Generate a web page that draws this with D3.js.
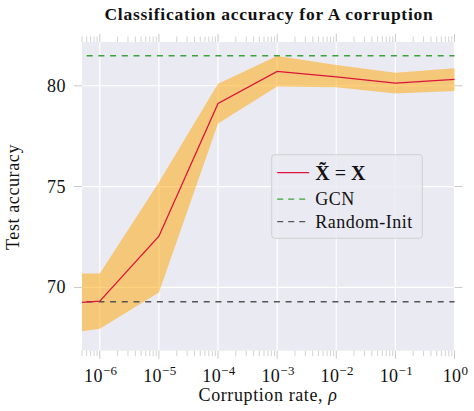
<!DOCTYPE html>
<html>
<head>
<meta charset="utf-8">
<script src="https://cdn.jsdelivr.net/npm/d3@7"></script>
<style>
  body { margin: 0; background: #fff; }
  svg { display: block; }
  text { font-family: "Liberation Serif", "DejaVu Serif", serif; fill: #111; }
</style>
</head>
<body>
<svg id="svg" width="474" height="411"></svg>
<script>
// corruption rates and test accuracy
const rates = [5e-7, 1e-6, 1e-5, 1e-4, 1e-3, 1e-2, 1e-1, 1];
const meanAcc = [69.26, 69.32, 72.54, 79.12, 80.71, 80.44, 80.13, 80.32];
const upperAcc = [70.69, 70.69, 75.22, 80.10, 81.48, 81.03, 80.65, 80.87];
const lowerAcc = [67.83, 67.95, 69.75, 78.13, 79.96, 79.92, 79.62, 79.74];
const baselineNames = ["GCN", "Random-Init"];
const baselineAcc = [81.49, 69.29];
const xTickExps = [-6, -5, -4, -3, -2, -1, 0];
const yTicks = [70, 75, 80];

const svg = d3.select("#svg");
const margin = {left: 82, top: 42, right: 19.5, bottom: 60.3};
const W = 474 - margin.left - margin.right,
    H = 411 - margin.top - margin.bottom;

const x = d3.scaleLog().domain([5e-7, 1]).range([0, W]);
const y = d3.scaleLinear().domain([66.86, 82.17]).range([H, 0]);

const g = svg.append("g").attr("transform", `translate(${margin.left},${margin.top})`);

g.append("rect").attr("width", W).attr("height", H).attr("fill", "#eaeaf2");

// grid
const majors = xTickExps.map(e => Math.pow(10, e));
g.append("g").selectAll("line").data(majors).join("line")
    .attr("x1", d => x(d)).attr("x2", d => x(d))
    .attr("y1", 0).attr("y2", H)
    .attr("stroke", "#fff").attr("stroke-width", 1.2);
g.append("g").selectAll("line").data(yTicks).join("line")
    .attr("x1", 0).attr("x2", W)
    .attr("y1", d => y(d)).attr("y2", d => y(d))
    .attr("stroke", "#fff").attr("stroke-width", 1.2);

// ticks (outside, light gray)
const minors = [];
for (let e = -7; e < 0; e++) {
    for (let m = 2; m <= 9; m++) {
        const v = m * Math.pow(10, e);
        if (v >= 5e-7 && v <= 1) minors.push(v);
    }
}
const tickCol = "#c8c8c8";
[[0, -1], [H, 1]].forEach(([y0, dir]) => {
    g.append("g").selectAll("line").data(majors).join("line")
        .attr("x1", d => x(d)).attr("x2", d => x(d))
        .attr("y1", y0).attr("y2", y0 + dir * 8)
        .attr("stroke", tickCol).attr("stroke-width", 1);
    g.append("g").selectAll("line").data(minors).join("line")
        .attr("x1", d => x(d)).attr("x2", d => x(d))
        .attr("y1", y0).attr("y2", y0 + dir * 5.5)
        .attr("stroke", tickCol).attr("stroke-width", 0.8);
});
[[0, -1], [W, 1]].forEach(([x0, dir]) => {
    g.append("g").selectAll("line").data(yTicks).join("line")
        .attr("x1", x0).attr("x2", x0 + dir * 8)
        .attr("y1", d => y(d)).attr("y2", d => y(d))
        .attr("stroke", tickCol).attr("stroke-width", 1);
});

// tick labels
g.append("g").selectAll("text").data(yTicks).join("text")
    .attr("x", -16).attr("y", d => y(d) + 6)
    .attr("text-anchor", "end").attr("font-size", 18).attr("letter-spacing", 0.5)
    .text(d => d);

const xl = g.append("g").selectAll("text").data(xTickExps).join("text")
    .attr("x", d => x(Math.pow(10, d)) + 1)
    .attr("y", H + 31)
    .attr("text-anchor", "middle").attr("font-size", 18).attr("letter-spacing", 0.4);
xl.append("tspan").text("10");
xl.append("tspan").attr("dy", -7).attr("font-size", 13)
    .text(d => d === 0 ? "0" : "\u2212" + Math.abs(d));

// band + mean line
const pts = rates.map((r, i) => ({r, m: meanAcc[i], lo: lowerAcc[i], hi: upperAcc[i]}));
g.append("path").datum(pts)
    .attr("d", d3.area().x(d => x(d.r)).y0(d => y(d.lo)).y1(d => y(d.hi)))
    .attr("fill", "orange").attr("fill-opacity", 0.5);

// baselines
const baseCols = ["#3aa23a", "#555"];
g.append("g").selectAll("line").data(baselineAcc).join("line")
    .attr("x1", 0).attr("x2", W)
    .attr("y1", d => y(d)).attr("y2", d => y(d))
    .attr("stroke", (d, i) => baseCols[i]).attr("stroke-width", 1.5)
    .attr("stroke-dasharray", "6 5.7").attr("stroke-dashoffset", 7);

g.append("path").datum(pts)
    .attr("d", d3.line().x(d => x(d.r)).y(d => y(d.m)))
    .attr("fill", "none").attr("stroke", "crimson").attr("stroke-width", 1.3);

// legend
const lg = svg.append("g").attr("transform", "translate(271.7,154.7)");
lg.append("rect").attr("width", 150.6).attr("height", 83.6).attr("rx", 3)
    .attr("fill", "#eaeaf2").attr("fill-opacity", 0.8)
    .attr("stroke", "#d0d0d0").attr("stroke-width", 1);
const entries = [
    {label: null, col: "crimson", dash: null, y: 18},
    {label: baselineNames[0], col: baseCols[0], dash: "6 5", y: 44.5},
    {label: baselineNames[1], col: baseCols[1], dash: "6 5", y: 67}
];
entries.forEach(e => {
    lg.append("line").attr("x1", 5.5).attr("x2", 37.5)
        .attr("y1", e.y).attr("y2", e.y)
        .attr("stroke", e.col).attr("stroke-width", 1.2)
        .attr("stroke-dasharray", e.dash);
    if (e.label) {
        lg.append("text").attr("x", 43.5).attr("y", e.y + 6)
            .attr("font-size", 18).attr("letter-spacing", 0.5).text(e.label);
    }
});
const t0 = lg.append("text").attr("x", 43.5).attr("y", entries[0].y + 7)
    .attr("font-size", 20).attr("font-weight", "bold");
t0.append("tspan").text("X\u0303");
t0.append("tspan").attr("font-weight", "normal").text(" = ");
t0.append("tspan").text("X");

// title and axis labels
svg.append("text").attr("x", 269).attr("y", 19.5)
    .attr("text-anchor", "middle").attr("font-size", 17.5).attr("font-weight", "bold")
    .attr("letter-spacing", 0.75)
    .text("Classification accuracy for A corruption");
const xt = svg.append("text").attr("x", 268).attr("y", 401)
    .attr("text-anchor", "middle").attr("font-size", 18).attr("letter-spacing", 0.6);
xt.append("tspan").text("Corruption rate, ");
xt.append("tspan").attr("font-style", "italic").text("\u03c1");
svg.append("text")
    .attr("transform", "translate(19,197) rotate(-90)")
    .attr("text-anchor", "middle").attr("font-size", 18).attr("letter-spacing", 0.6)
    .text("Test accuracy");
</script>
</body>
</html>
